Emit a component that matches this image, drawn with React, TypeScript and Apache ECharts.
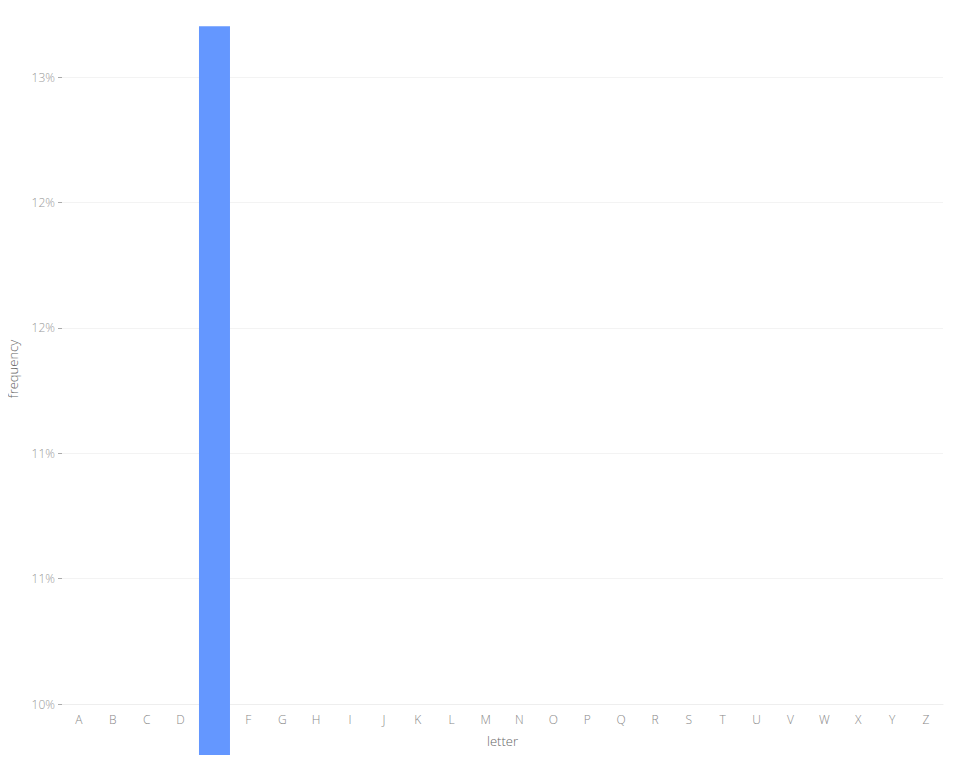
import { useEffect, useRef } from "react";
import * as echarts from "echarts";

// letter frequencies in English text
const letters = [
  "A", "B", "C", "D", "E", "F", "G", "H", "I", "J", "K", "L", "M",
  "N", "O", "P", "Q", "R", "S", "T", "U", "V", "W", "X", "Y", "Z"
];
const frequency = [
  0.08167, 0.01492, 0.02782, 0.04253, 0.12702, 0.02288, 0.02015, 0.06094, 0.06966,
  0.00153, 0.00772, 0.04025, 0.02406, 0.06749, 0.07507, 0.01929, 0.00095, 0.05987,
  0.06327, 0.09056, 0.02758, 0.00978, 0.0236, 0.0015, 0.01974, 0.00074
];
const yMin = 0.1;
const yMax = 0.125;
const yStep = 0.005;

const FONT = "'Open Sans', 'Noto Sans', sans-serif";

export default function App() {
  const ref = useRef<HTMLDivElement | null>(null);

  useEffect(() => {
    if (!ref.current) {
      return;
    }
    const chart = echarts.init(ref.current, undefined, { renderer: "svg" });
    chart.setOption({
      animation: false,
      textStyle: { fontFamily: FONT },
      grid: { left: 54, right: 27, top: 69, bottom: 51 },
      xAxis: {
        type: "category",
        data: letters,
        name: "letter",
        nameLocation: "middle",
        nameGap: 30,
        nameTextStyle: { color: "#666", fontSize: 13, fontWeight: 300, fontFamily: FONT },
        axisLine: { lineStyle: { color: "#eee" } },
        axisTick: { alignWithLabel: true, length: 5, lineStyle: { color: "#ccc" } },
        axisLabel: { color: "#888", fontSize: 12, fontWeight: 300, margin: 9, fontFamily: FONT }
      },
      yAxis: {
        type: "value",
        min: yMin,
        max: yMax,
        interval: yStep,
        axisLine: { show: false },
        axisTick: { show: true, length: 4, lineStyle: { color: "#aaa" } },
        axisLabel: {
          color: "#999",
          fontSize: 12,
          fontWeight: 300,
          margin: 7,
          fontFamily: FONT,
          formatter: (v: number) => `${Math.round(v * 100)}%`
        },
        splitLine: { lineStyle: { color: "#f3f3f3" } }
      },
      graphic: [
        {
          type: "text",
          x: 5,
          y: 361,
          rotation: Math.PI / 2,
          style: {
            text: "frequency",
            fill: "#666",
            font: `300 13px ${FONT}`,
            textAlign: "center",
            textVerticalAlign: "middle"
          }
        }
      ],
      series: [
        {
          type: "bar",
          data: frequency,
          barWidth: 31,
          clip: false,
          itemStyle: { color: "#6497ff" }
        }
      ]
    });
    return () => {
      chart.dispose();
    };
  }, []);

  return <div ref={ref} style={{ width: 962, height: 747 }} />;
}
